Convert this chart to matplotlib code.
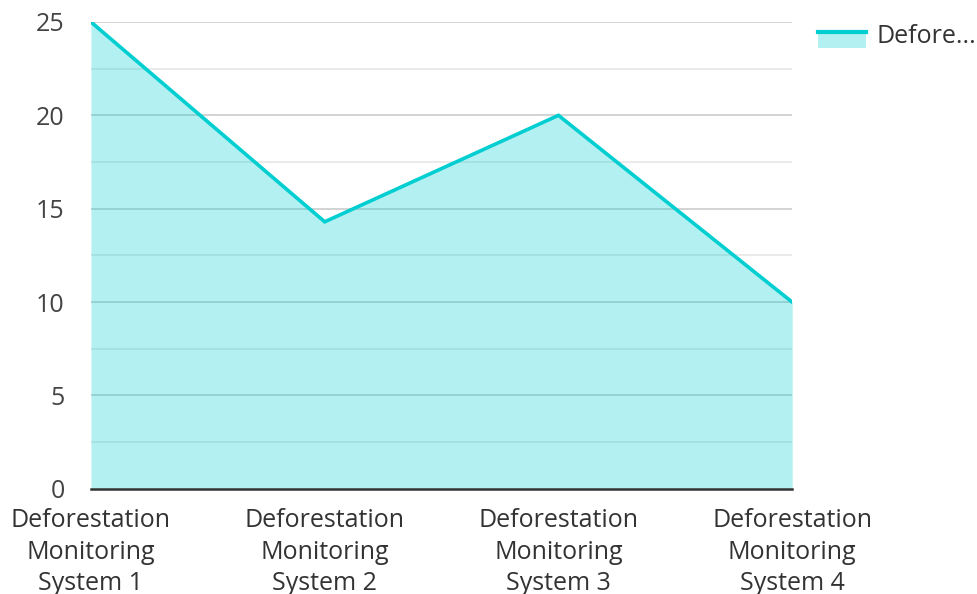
import matplotlib
matplotlib.use("Agg")
import matplotlib.pyplot as plt
from matplotlib.lines import Line2D
from matplotlib.patches import Rectangle
from matplotlib.legend_handler import HandlerBase

plt.rcParams["font.family"] = ["Open Sans", "DejaVu Sans"]

# ── Data ──────────────────────────────────────────────────────────────────────
CATEGORIES = [
    "Deforestation\nMonitoring\nSystem 1",
    "Deforestation\nMonitoring\nSystem 2",
    "Deforestation\nMonitoring\nSystem 3",
    "Deforestation\nMonitoring\nSystem 4",
]
VALUES = [25, 14.3, 20, 10]
Y_TICKS = [0, 5, 10, 15, 20, 25]
Y_MINOR = [2.5, 7.5, 12.5, 17.5, 22.5]
SERIES_LABEL = "Defore..."

LINE_COLOUR = "#00CED1"
TEXT_COLOUR = "#444444"
FONT_SIZE = 18


class LineOverPatch(HandlerBase):
    """Legend key: translucent fill with the series line along its top edge."""

    def create_artists(self, legend, orig_handle, xdescent, ydescent,
                       width, height, fontsize, trans):
        rect = Rectangle((-xdescent, -ydescent - height * 0.35), width, height,
                         facecolor=LINE_COLOUR, alpha=0.3, linewidth=0,
                         transform=trans)
        top = -ydescent + height * 0.65
        line = Line2D([-xdescent, -xdescent + width], [top, top],
                      color=LINE_COLOUR, linewidth=3, transform=trans)
        return [rect, line]


fig = plt.figure(figsize=(9.78, 5.94), dpi=100)
ax = fig.add_axes([0.093, 0.177, 0.717, 0.786])

x = list(range(len(CATEGORIES)))

# Gridlines first so the translucent fill sits over them
for y in Y_TICKS[1:]:
    ax.axhline(y, color="#cccccc", linewidth=1.2, zorder=1)
for y in Y_MINOR:
    ax.axhline(y, color="#e6e6e6", linewidth=1.2, zorder=1)

ax.fill_between(x, VALUES, 0, color=LINE_COLOUR, alpha=0.3, linewidth=0, zorder=2)
ax.plot(x, VALUES, color=LINE_COLOUR, linewidth=2.6, solid_joinstyle="miter", zorder=3)

ax.set_xlim(0, len(CATEGORIES) - 1)
ax.set_ylim(0, 25)
ax.set_xticks(x)
ax.set_xticklabels(CATEGORIES, fontsize=FONT_SIZE, color="#333333", linespacing=1.33)
ax.set_yticks(Y_TICKS)
ax.set_yticklabels([str(v) for v in Y_TICKS], fontsize=FONT_SIZE, color=TEXT_COLOUR)
ax.tick_params(axis="both", length=0)
ax.tick_params(axis="y", pad=19)
ax.tick_params(axis="x", pad=14)

for side in ["top", "right", "left"]:
    ax.spines[side].set_visible(False)
ax.spines["bottom"].set_color("#333333")
ax.spines["bottom"].set_linewidth(1.8)
ax.spines["bottom"].set_zorder(4)

fig.legend([object()], [SERIES_LABEL], loc="center left",
           bbox_to_anchor=(0.8364, 0.938), frameon=False, fontsize=FONT_SIZE,
           handlelength=1.92, handleheight=0.6, handletextpad=0.44,
           borderpad=0, borderaxespad=0, labelcolor="#333333",
           handler_map={object: LineOverPatch()})

fig.savefig("out.png", dpi=100)
